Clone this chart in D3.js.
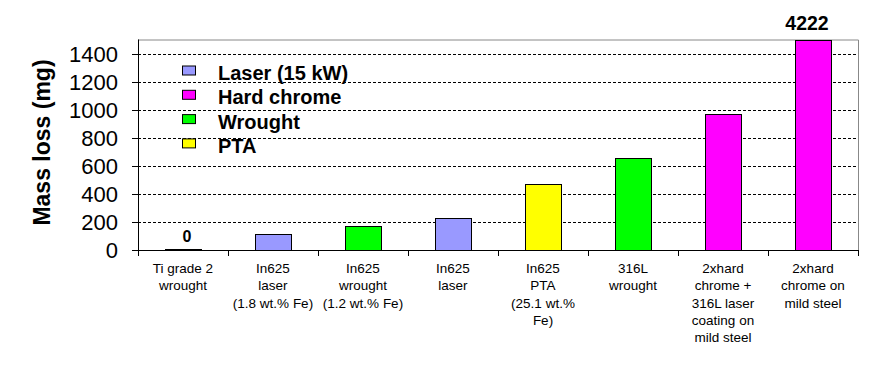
<!DOCTYPE html>
<html><head><meta charset="utf-8">
<script src="https://cdn.jsdelivr.net/npm/d3@7"></script>
<style>body{margin:0;background:#fff}svg{display:block}text{font-family:Arial,"Liberation Sans",sans-serif}</style>
</head><body>
<script>
const categories = [
  ["Ti grade 2","wrought"],
  ["In625","laser","(1.8 wt.% Fe)"],
  ["In625","wrought","(1.2 wt.% Fe)"],
  ["In625","laser"],
  ["In625","PTA","(25.1 wt.%","Fe)"],
  ["316L","wrought"],
  ["2xhard","chrome +","316L laser","coating on","mild steel"],
  ["2xhard","chrome on","mild steel"]
];
const values = [0, 112, 169, 225, 470, 653, 966, 4222];
const groups = ["Wrought","Laser (15 kW)","Wrought","Laser (15 kW)","PTA","Wrought","Hard chrome","Hard chrome"];
const valueLabels = [{i:0, text:"0"}, {i:7, text:"4222"}];
const legendItems = ["Laser (15 kW)","Hard chrome","Wrought","PTA"];
const legendColors = ["#9999FF","#FF00FF","#00FF00","#FFFF00"];
const yTicks = [0,200,400,600,800,1000,1200,1400];

const W=876,H=392;
const m={left:138,right:858,top:39.5,bottom:250};
const svg=d3.select("body").append("svg").attr("width",W).attr("height",H);
const color=d3.scaleOrdinal().domain(legendItems).range(legendColors);
const x=d3.scaleBand().domain(d3.range(categories.length)).range([m.left,m.right]).paddingInner(0.6).paddingOuter(0.3);
const xb=d3.scaleLinear().domain([0,categories.length]).range([m.left,m.right]);
const y=d3.scaleLinear().domain([0,1500]).range([m.bottom,m.top]).clamp(true);

// grid
svg.append("g").selectAll("line").data(yTicks.filter(d=>d>0)).join("line")
  .attr("x1",m.left).attr("x2",m.right).attr("y1",d=>Math.round(y(d))+0.5).attr("y2",d=>Math.round(y(d))+0.5)
  .attr("stroke","#000").attr("stroke-dasharray","3,2").attr("stroke-width",1);
// border gray top/right
svg.append("path").attr("d",`M${m.left},${m.top+0.5}H${m.right+0.5}V${m.bottom}`).attr("fill","none").attr("stroke","#888");

// bars
const barTop=d=>Math.min(Math.round(y(d)), m.bottom-1);
svg.append("g").selectAll("rect").data(values).join("rect")
  .attr("x",(d,i)=>Math.round(x(i))+0.5).attr("width",Math.round(x.bandwidth()))
  .attr("y",d=>barTop(d)+0.5).attr("height",d=>m.bottom-barTop(d))
  .attr("fill",(d,i)=>color(groups[i])).attr("stroke","#000").attr("stroke-width",1);

// y axis
svg.append("line").attr("x1",m.left+0.5).attr("x2",m.left+0.5).attr("y1",m.top).attr("y2",m.bottom).attr("stroke","#000");
svg.append("g").selectAll("line").data(yTicks).join("line")
  .attr("x1",m.left-6).attr("x2",m.left).attr("y1",d=>Math.round(y(d))+0.5).attr("y2",d=>Math.round(y(d))+0.5).attr("stroke","#000");
svg.append("g").selectAll("text").data(yTicks).join("text")
  .attr("x",118).attr("y",d=>y(d)+8).attr("text-anchor","end").attr("font-size",22).text(d=>d);

// x axis
svg.append("line").attr("x1",m.left).attr("x2",m.right+0.5).attr("y1",m.bottom+0.5).attr("y2",m.bottom+0.5).attr("stroke","#000");
svg.append("g").selectAll("line").data(d3.range(categories.length+1)).join("line")
  .attr("x1",d=>Math.round(xb(d))+0.5).attr("x2",d=>Math.round(xb(d))+0.5).attr("y1",m.bottom).attr("y2",m.bottom+6).attr("stroke","#000");
const xl=svg.append("g").selectAll("text").data(categories).join("text")
  .attr("text-anchor","middle").attr("font-size",13.5).attr("fill","#000");
xl.each(function(lines,i){
  d3.select(this).selectAll("tspan").data(lines).join("tspan")
    .attr("x",x(i)+x.bandwidth()/2).attr("y",(d,j)=>273+j*17.3).text(d=>d);
});

// value labels
svg.append("g").selectAll("text").data(valueLabels).join("text")
  .attr("x",d=>x(d.i)+x.bandwidth()/2+(d.i===0?4:-6))
  .attr("y",d=>d.i===0?241.5:30)
  .attr("text-anchor","middle").attr("font-weight","bold").attr("font-size",d=>d.i===0?16:19.5).text(d=>d.text);

// y title
svg.append("text").attr("transform","translate(50,142.5) rotate(-90)").attr("text-anchor","middle")
  .attr("font-size",23).attr("font-weight","bold").text("Mass loss (mg)");

// legend
const lg=svg.append("g").selectAll("g").data(legendItems).join("g")
  .attr("transform",(d,i)=>`translate(182,${65.5+i*24.3})`);
lg.append("rect").attr("x",0.5).attr("y",0.5).attr("width",13).attr("height",9).attr("fill",(d,i)=>legendColors[i]).attr("stroke","#000");
lg.append("text").attr("x",36).attr("y",14.5).attr("font-size",20).attr("font-weight","bold").text(d=>d);
</script>
</body></html>
